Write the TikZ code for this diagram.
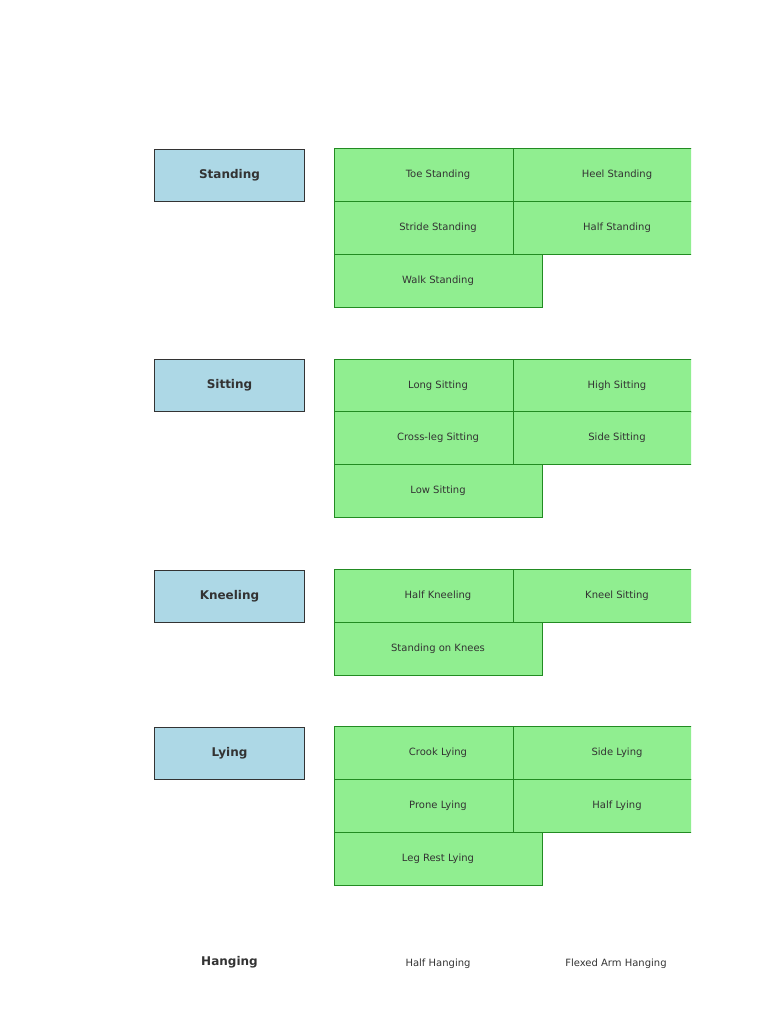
\documentclass[tikz,border=0pt]{standalone}
\usepackage{fontspec}
\setmainfont{DejaVu Sans}
\begin{document}
\begin{tikzpicture}[x=1pt,y=-1pt,
  catbox/.style={draw=black!80,line width=0.9pt,fill={rgb,255:red,173;green,216;blue,230},minimum width=150pt,minimum height=52pt,inner sep=0pt,font=\fontsize{12}{14}\selectfont\bfseries,text={black!80}},
  posbox/.style={draw={rgb,255:red,34;green,139;blue,34},line width=0.9pt,fill={rgb,255:red,144;green,238;blue,144},minimum width=208pt,minimum height=53pt,inner sep=0pt,font=\fontsize{10}{12}\selectfont,text={black!80}},
  plaintext/.style={inner sep=0pt,text={black!80}}]
\useasboundingbox (0,0) rectangle (768,1024);
% categories
\node[catbox] (standing) at (229.5,175) {Standing};
\node[catbox] (sitting) at (229.5,385.5) {Sitting};
\node[catbox] (kneeling) at (229.5,596) {Kneeling};
\node[catbox] (lying) at (229.5,753) {Lying};
\begin{scope}
\clip (0,0) rectangle (691,1024);
% Standing
\node[posbox] (toe) at (438,175) {Toe Standing};
\node[posbox] (heel) at (617,175) {Heel Standing};
\node[posbox] (stride) at (438,227.5) {Stride Standing};
\node[posbox] (halfst) at (617,227.5) {Half Standing};
\node[posbox] (walk) at (438,280.5) {Walk Standing};
% Sitting
\node[posbox] (long) at (438,385.5) {Long Sitting};
\node[posbox] (high) at (617,385.5) {High Sitting};
\node[posbox] (cross) at (438,437.5) {Cross-leg Sitting};
\node[posbox] (side) at (617,437.5) {Side Sitting};
\node[posbox] (low) at (438,490.5) {Low Sitting};
% Kneeling
\node[posbox] (halfkn) at (438,596) {Half Kneeling};
\node[posbox] (kneelsit) at (617,596) {Kneel Sitting};
\node[posbox] (onknees) at (438,648.5) {Standing on Knees};
% Lying
\node[posbox] (crook) at (438,753) {Crook Lying};
\node[posbox] (sidely) at (617,753) {Side Lying};
\node[posbox] (prone) at (438,805.5) {Prone Lying};
\node[posbox] (halfly) at (617,805.5) {Half Lying};
\node[posbox] (legrest) at (438,858.5) {Leg Rest Lying};
\end{scope}
% Hanging
\node[plaintext,font=\fontsize{12}{14}\selectfont\bfseries] (hanging) at (229.5,962.5) {Hanging};
\node[plaintext,font=\fontsize{10}{12}\selectfont] (halfhang) at (438,963.5) {Half Hanging};
\node[plaintext,font=\fontsize{10}{12}\selectfont] (flexed) at (616,963.5) {Flexed Arm Hanging};
\end{tikzpicture}
\end{document}
